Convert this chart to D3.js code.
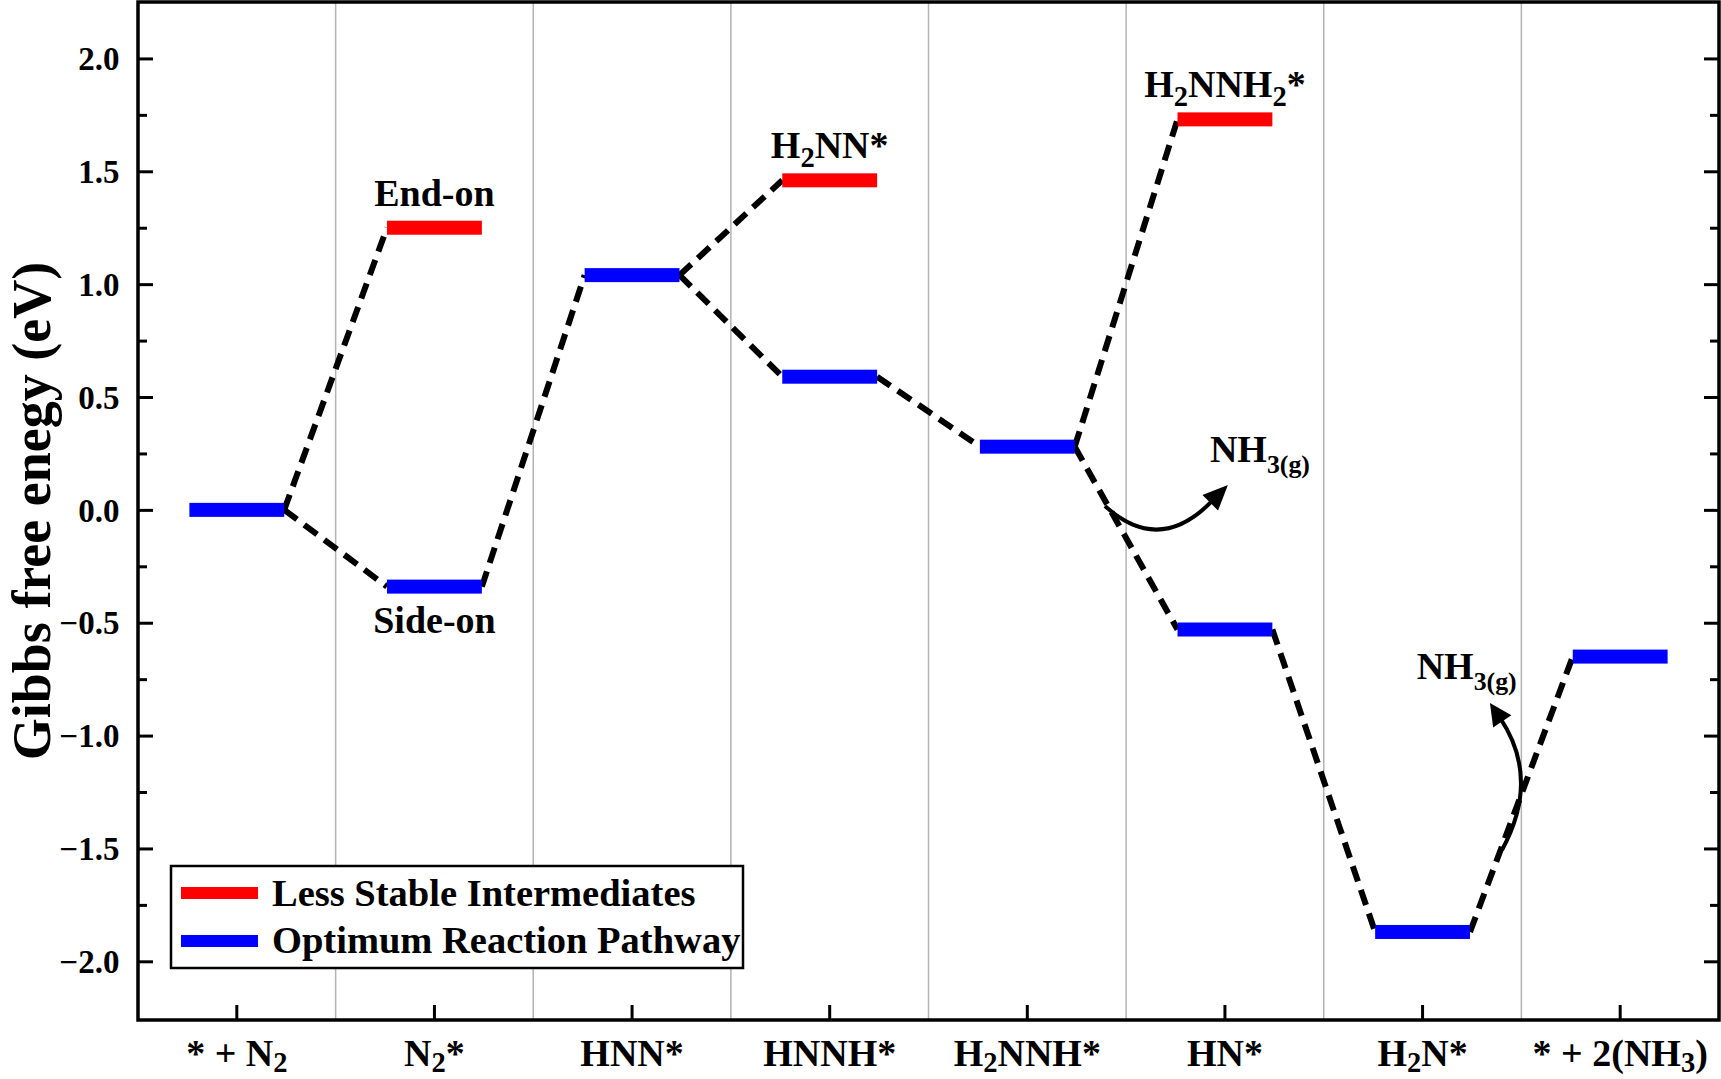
<!DOCTYPE html>
<html><head><meta charset="utf-8">
<script src="https://cdn.jsdelivr.net/npm/d3@7"></script>
<style>
html,body{margin:0;padding:0;background:#fff;}
svg text{font-family:"Liberation Serif","Times New Roman",serif;font-weight:bold;fill:#000;}
</style></head><body>
<svg id="chart" width="1721" height="1079"></svg>
<script>
// ---------- data ----------
const categories = ["* + N_{2}", "N_{2}*", "HNN*", "HNNH*", "H_{2}NNH*", "HN*", "H_{2}N*", "* + 2(NH_{3})"];
const optimumValues = [0.00, -0.34, 1.04, 0.59, 0.28, -0.53, -1.87, -0.65];
const lessStableCats = [1, 3, 5];
const lessStableValues = [1.25, 1.46, 1.73];
const lessStableLabels = ["End-on", "H_{2}NN*", "H_{2}NNH_{2}*"];
const sideOnLabel = "Side-on";
const links = [["o0","l0"],["o0","o1"],["o1","o2"],["o2","l1"],["o2","o3"],["o3","o4"],["o4","l2"],["o4","o5"],["o5","o6"],["o6","o7"]];
const yTicks = [-2.0, -1.5, -1.0, -0.5, 0.0, 0.5, 1.0, 1.5, 2.0];
const yMinorTicks = [-1.75, -1.25, -0.75, -0.25, 0.25, 0.75, 1.25, 1.75];
const legendLabels = ["Less Stable Intermediates", "Optimum Reaction Pathway"];
const yTitle = "Gibbs free enegy (eV)";
const gasLabel = "NH_{3(g)}";
const gasLabelPos = [[4.924, 0.213], [5.970, -0.751]];          // [category units, eV]
const arrowStart = [[4.393, 0.017], [6.402, -1.507]];
const arrowCtrl  = [[4.671, -0.204], [6.599, -1.192]];
const arrowEnd   = [[4.940, 0.044], [6.392, -0.922]];
const arrowTip   = [[5.015, 0.110], [6.341, -0.856]];

// ---------- layout ----------
const L = 138, R = 1719, T = 2, B = 1020;
const svg = d3.select("#chart");
const x = d3.scaleBand().domain(d3.range(categories.length)).range([L, R]).padding(0);
const xc = d3.scaleLinear().domain([-0.5, categories.length - 0.5]).range([L, R]);
const y = d3.scaleLinear().domain([-2.26, 2.25]).range([B, T]);
const BLUE = "#0000ff", RED = "#ff0000";
const barW = x.bandwidth() * 0.48, barH = 14;

function rich(sel, str, fs, subRatio, subShift) {
  let shift = 0;
  str.split(/(_\{[^}]*\})/).filter(s => s.length).forEach(p => {
    const isSub = p.startsWith("_{");
    const target = isSub ? subShift : 0;
    sel.append("tspan").attr("dy", target - shift)
      .attr("font-size", isSub ? fs * subRatio : fs)
      .text(isSub ? p.slice(2, -1) : p);
    shift = target;
  });
}

// gridlines at band boundaries
svg.append("g").selectAll("line").data(d3.range(1, categories.length)).join("line")
  .attr("x1", d => x(d)).attr("x2", d => x(d)).attr("y1", T).attr("y2", B)
  .attr("stroke", "#b3b3b3").attr("stroke-width", 1.5);

// levels
const levels = {};
optimumValues.forEach((v, i) => levels["o" + i] = {cat: i, value: v, color: BLUE});
lessStableValues.forEach((v, i) => levels["l" + i] = {cat: lessStableCats[i], value: v, color: RED});

// dashed connectors
svg.append("g").selectAll("line").data(links).join("line")
  .attr("x1", d => xc(levels[d[0]].cat) + barW / 2)
  .attr("y1", d => y(levels[d[0]].value))
  .attr("x2", d => xc(levels[d[1]].cat) - barW / 2)
  .attr("y2", d => y(levels[d[1]].value))
  .attr("stroke", "#000").attr("stroke-width", 6).attr("stroke-dasharray", "16,9");

// bars
svg.append("g").selectAll("rect").data(Object.values(levels)).join("rect")
  .attr("x", d => xc(d.cat) - barW / 2).attr("y", d => y(d.value) - barH / 2)
  .attr("width", barW).attr("height", barH).attr("fill", d => d.color);

// level labels
const FS = 38;
lessStableLabels.forEach((lab, i) => {
  const t = svg.append("text").attr("text-anchor", "middle")
    .attr("x", xc(lessStableCats[i])).attr("y", y(lessStableValues[i]) - 22)
    .attr("font-size", FS);
  rich(t, lab, FS, 0.75, 9);
});
svg.append("text").attr("text-anchor", "middle").attr("font-size", FS)
  .attr("x", xc(1)).attr("y", y(optimumValues[1]) + 46).text(sideOnLabel);

// NH3(g) labels
gasLabelPos.forEach(p => {
  const t = svg.append("text").attr("x", xc(p[0])).attr("y", y(p[1])).attr("font-size", FS);
  rich(t, gasLabel, FS, 0.68, 11);
});

// arrows
arrowStart.forEach((s, i) => {
  const p0 = [xc(s[0]), y(s[1])], c = [xc(arrowCtrl[i][0]), y(arrowCtrl[i][1])];
  const p2 = [xc(arrowEnd[i][0]), y(arrowEnd[i][1])], tip = [xc(arrowTip[i][0]), y(arrowTip[i][1])];
  const path = d3.path();
  path.moveTo(p0[0], p0[1]); path.quadraticCurveTo(c[0], c[1], p2[0], p2[1]);
  svg.append("path").attr("d", path.toString()).attr("fill", "none")
    .attr("stroke", "#000").attr("stroke-width", 4);
  const dx = tip[0] - p2[0], dy = tip[1] - p2[1], len = Math.hypot(dx, dy);
  const nx = -dy / len * 11, ny = dx / len * 11;
  const bx = p2[0] - dx / len * 4, by = p2[1] - dy / len * 4;
  svg.append("path")
    .attr("d", `M${tip[0]},${tip[1]}L${bx + nx},${by + ny}L${bx - nx},${by - ny}Z`)
    .attr("fill", "#000");
});

// axes
const axG = svg.append("g").attr("stroke-width", 3);
const styleAxis = g => { g.select(".domain").remove(); g.selectAll(".tick line").attr("stroke", "#000").attr("stroke-width", 3); };
axG.append("g").attr("transform", `translate(${L},0)`)
  .call(d3.axisLeft(y).tickValues(yTicks).tickSize(-15).tickPadding(18.6).tickFormat(d3.format(".1f")))
  .call(styleAxis)
  .call(g => g.selectAll("text").attr("font-size", 33).attr("font-family", null).attr("dy", "0.34em"));
axG.append("g").attr("transform", `translate(${L},0)`)
  .call(d3.axisLeft(y).tickValues(yMinorTicks).tickSize(-9).tickFormat(""))
  .call(styleAxis);
axG.append("g").attr("transform", `translate(${R},0)`)
  .call(d3.axisRight(y).tickValues(yTicks).tickSize(-15).tickFormat(""))
  .call(styleAxis);
axG.append("g").attr("transform", `translate(${R},0)`)
  .call(d3.axisRight(y).tickValues(yMinorTicks).tickSize(-9).tickFormat(""))
  .call(styleAxis);
axG.append("g").attr("transform", `translate(0,${B})`)
  .call(d3.axisBottom(x).tickSize(-15).tickFormat(""))
  .call(styleAxis);

// category labels
categories.forEach((c, i) => {
  const t = svg.append("text").attr("text-anchor", "middle")
    .attr("x", xc(i)).attr("y", B + 46).attr("font-size", FS);
  rich(t, c, FS, 0.75, 6);
});

// frame
svg.append("rect").attr("x", L).attr("y", T).attr("width", R - L).attr("height", B - T)
  .attr("fill", "none").attr("stroke", "#000").attr("stroke-width", 3.5);

// y title
svg.append("text").attr("text-anchor", "middle").attr("font-size", 54)
  .attr("transform", `translate(50,${(T + B) / 2}) rotate(-90)`).text(yTitle);

// legend
const lg = svg.append("g");
lg.append("rect").attr("x", 171).attr("y", 866).attr("width", 572).attr("height", 102)
  .attr("fill", "#fff").attr("stroke", "#000").attr("stroke-width", 2.5);
[RED, BLUE].forEach((col, i) => {
  lg.append("rect").attr("x", 181).attr("y", 887 + i * 48).attr("width", 77).attr("height", 12).attr("fill", col);
  lg.append("text").attr("x", 272).attr("y", 906 + i * 47).attr("font-size", 38.5).text(legendLabels[i]);
});
</script>
</body></html>
